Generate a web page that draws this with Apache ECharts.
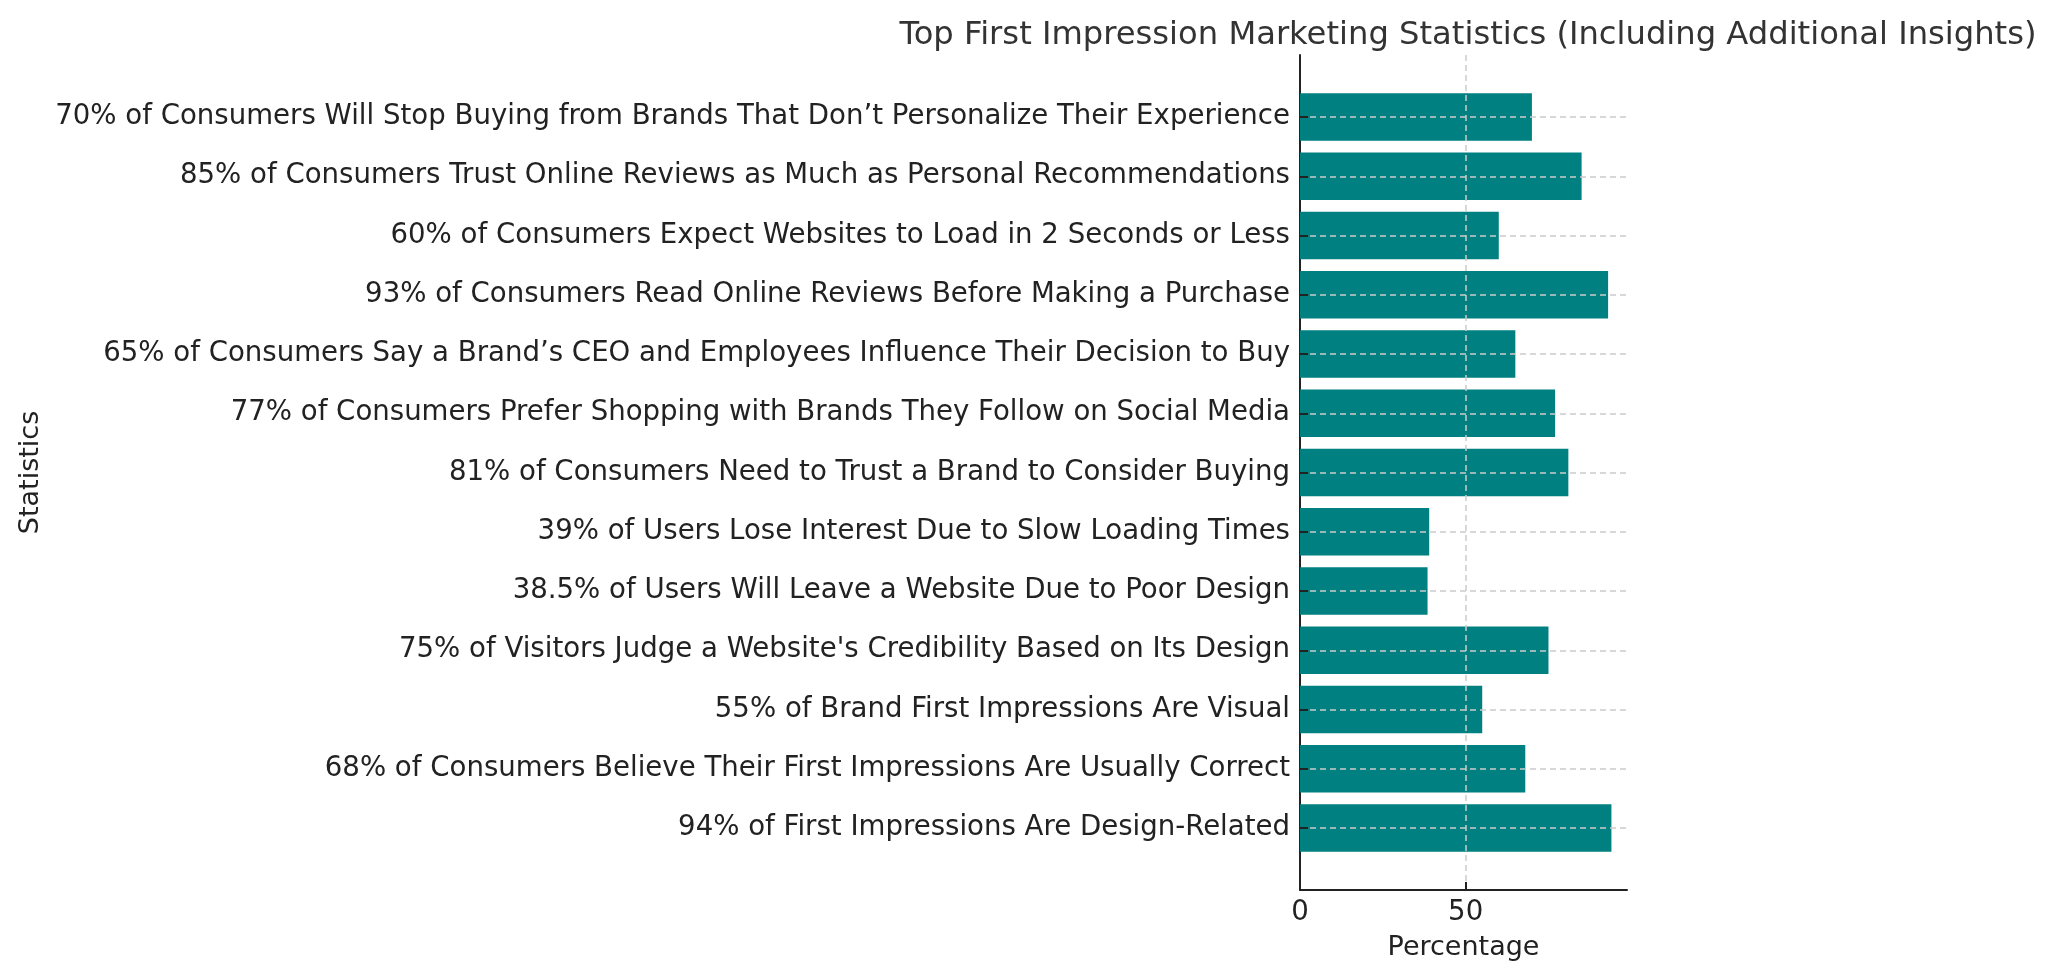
<!DOCTYPE html>
<html>
<head>
<meta charset="utf-8">
<title>Top First Impression Marketing Statistics</title>
<script src="https://cdn.jsdelivr.net/npm/echarts@6/dist/echarts.min.js"></script>
<style>
    html, body { margin: 0; padding: 0; background: #ffffff; }
    #mychart { width: 2048px; height: 979px; }
</style>
</head>
<body>
<div id="mychart"></div>
<script>
// categories, bottom to top (as matplotlib draws barh)
var categories = [
    "94% of First Impressions Are Design-Related",
    "68% of Consumers Believe Their First Impressions Are Usually Correct",
    "55% of Brand First Impressions Are Visual",
    "75% of Visitors Judge a Website's Credibility Based on Its Design",
    "38.5% of Users Will Leave a Website Due to Poor Design",
    "39% of Users Lose Interest Due to Slow Loading Times",
    "81% of Consumers Need to Trust a Brand to Consider Buying",
    "77% of Consumers Prefer Shopping with Brands They Follow on Social Media",
    "65% of Consumers Say a Brand\u2019s CEO and Employees Influence Their Decision to Buy",
    "93% of Consumers Read Online Reviews Before Making a Purchase",
    "60% of Consumers Expect Websites to Load in 2 Seconds or Less",
    "85% of Consumers Trust Online Reviews as Much as Personal Recommendations",
    "70% of Consumers Will Stop Buying from Brands That Don\u2019t Personalize Their Experience"
];
var percentages = [94, 68, 55, 75, 38.5, 39, 81, 77, 65, 93, 60, 85, 70];
var xTicks = [0, 50];

var fontName = "DejaVu Sans";
var xMax = 98.7;   // 94 * 1.05 margin
var gridColor = "#cccccc";
var axisColor = "#222222";

var option = {
    backgroundColor: "#ffffff",
    animation: false,
    title: {
        text: "Top First Impression Marketing Statistics (Including Additional Insights)",
        left: 1463,
        textAlign: "center",
        top: 15,
        textStyle: {
            fontFamily: fontName,
            fontSize: 32.2,
            fontWeight: "normal",
            color: "#333333"
        }
    },
    grid: [
        // frame: spines, x ticks, vertical grid line
        { left: 1300, right: 421, top: 55, bottom: 89 },
        // bars: categories from first to last bar centre
        { left: 1300, right: 421, top: 117, bottom: 151 }
    ],
    xAxis: [
        {
            gridIndex: 0,
            type: "value",
            min: 0,
            max: xMax,
            interval: 50,
            z: 5,
            name: "Percentage",
            nameLocation: "middle",
            nameGap: 44,
            nameTextStyle: { fontFamily: fontName, fontSize: 27, color: "#222222" },
            axisLine: { show: true, lineStyle: { color: axisColor, width: 2 } },
            axisTick: {
                show: true,
                inside: true,
                length: 8,
                customValues: xTicks,
                lineStyle: { color: axisColor, width: 2 }
            },
            axisLabel: {
                customValues: xTicks,
                margin: 9,
                fontFamily: fontName,
                fontSize: 27.6,
                color: "#222222"
            },
            splitLine: {
                show: true,
                showMinLine: false,
                lineStyle: { color: gridColor, type: [6, 4], width: 1.5 }
            }
        },
        {
            gridIndex: 1,
            type: "value",
            min: 0,
            max: xMax,
            show: false
        }
    ],
    yAxis: [
        {
            gridIndex: 0,
            type: "value",
            min: 0,
            max: 1,
            name: "Statistics",
            nameLocation: "middle",
            nameRotate: 90,
            nameGap: 1256,
            nameTextStyle: { fontFamily: fontName, fontSize: 27, color: "#222222" },
            axisLine: { show: true, lineStyle: { color: axisColor, width: 2 } },
            axisTick: { show: false },
            axisLabel: { show: false },
            splitLine: { show: false }
        },
        {
            gridIndex: 1,
            type: "category",
            data: categories,
            boundaryGap: false,
            z: 5,
            axisLine: { show: false },
            axisTick: {
                show: true,
                inside: true,
                length: 8,
                lineStyle: { color: axisColor, width: 2 }
            },
            axisLabel: {
                interval: 0,
                margin: 10,
                padding: [5, 0, 0, 0],
                fontFamily: fontName,
                fontSize: 27.6,
                color: "#222222"
            },
            splitLine: {
                show: true,
                interval: 0,
                lineStyle: { color: gridColor, type: [6, 4], width: 1.5 }
            }
        }
    ],
    series: [
        {
            type: "bar",
            xAxisIndex: 1,
            yAxisIndex: 1,
            barWidth: "80%",
            clip: false,
            itemStyle: { color: "#008080" },
            data: percentages
        }
    ]
};

var myChart = echarts.init(document.getElementById("mychart"));
myChart.setOption(option);
</script>
</body>
</html>
